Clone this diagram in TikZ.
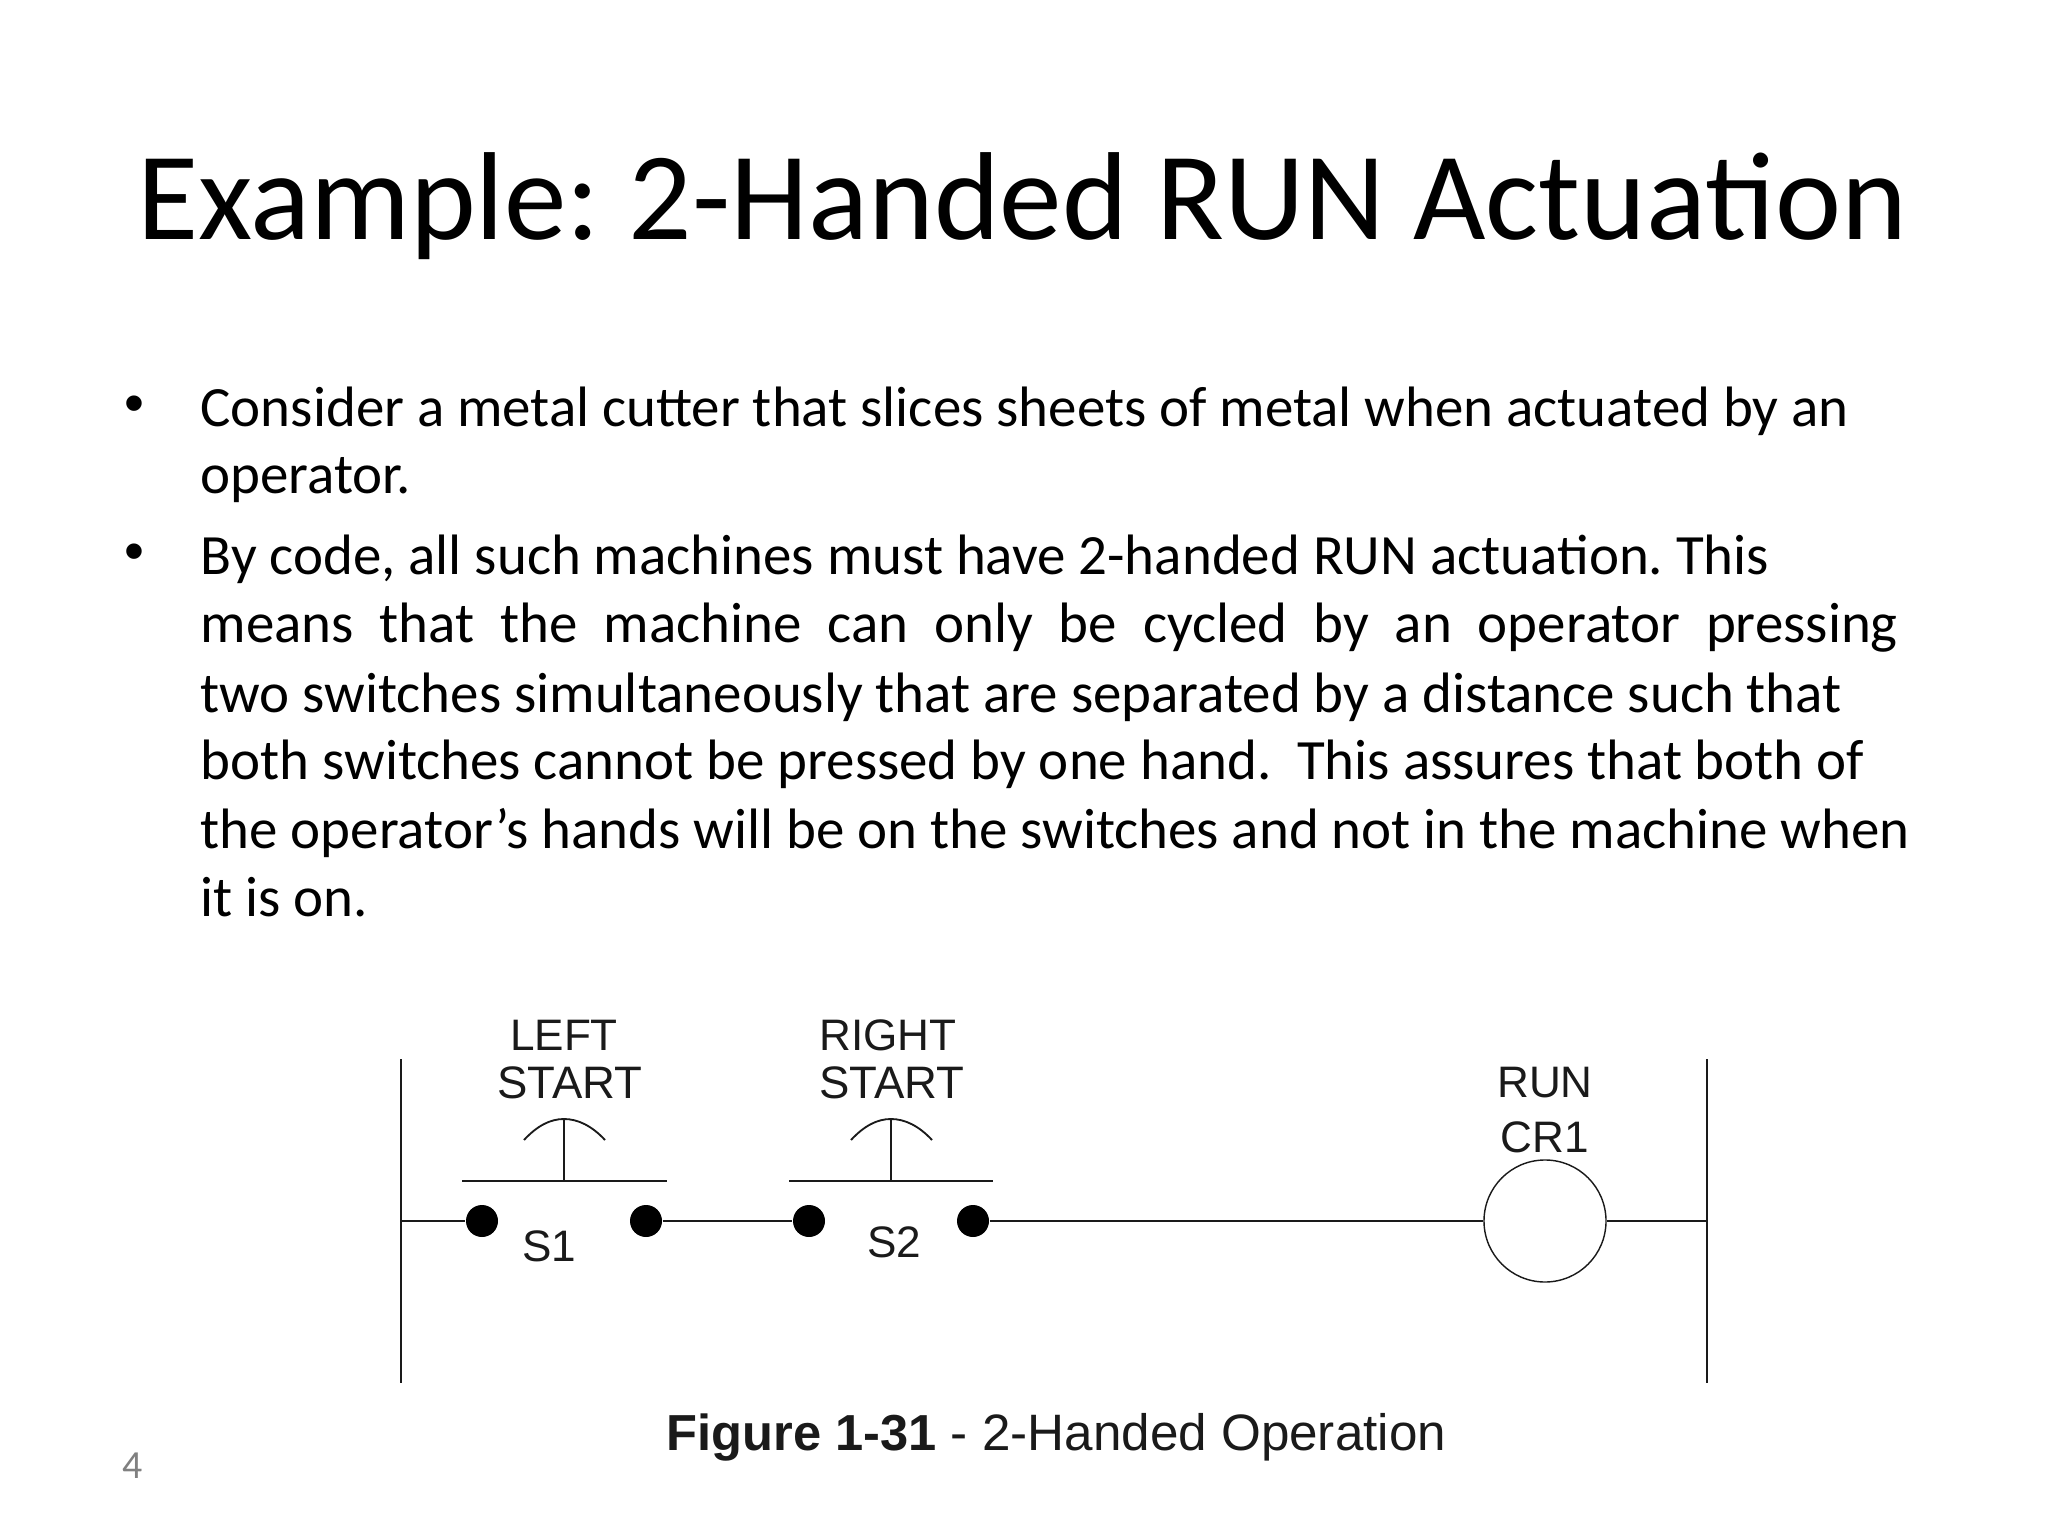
\documentclass[tikz,border=0pt]{standalone}
\usepackage{fontspec}
\setmainfont{Carlito}
\newfontfamily\arialf{Liberation Sans}
\definecolor{ink}{HTML}{1A1A1A}
\tikzset{
  titletext/.style={anchor=base,inner sep=0pt,font=\fontsize{44}{50}\selectfont,text=black},
  bodyline/.style={anchor=base west,inner sep=0pt,font=\fontsize{20.02}{24}\selectfont,text=black},
  bulletmark/.style={anchor=base,inner sep=0pt,font=\arialf\fontsize{20}{24}\selectfont,text=black},
  labeltext/.style={anchor=base,inner sep=0pt,font=\arialf\fontsize{15.5}{18}\selectfont,text=ink},
  starttext/.style={anchor=base,inner sep=0pt,font=\arialf\fontsize{16}{18}\selectfont,text=ink},
  captiontext/.style={anchor=base west,inner sep=0pt,font=\arialf\fontsize{18}{20}\selectfont,text=ink},
  pagenum/.style={anchor=base,inner sep=0pt,font=\fontsize{14}{16}\selectfont,text=black!50},
  contact/.style={circle,fill=black,draw=none,inner sep=0pt,minimum size=11.25pt},
  coil/.style={circle,draw=ink,line width=.5pt,fill=none,inner sep=0pt,minimum size=42.9pt},
  wire/.style={draw=ink,line width=.65pt},
}
\frenchspacing
\begin{document}
\begin{tikzpicture}[x=0.3515625pt,y=-0.3515625pt]
\useasboundingbox (0,0) rectangle (2048,1536);
\node[titletext] (title) at (1022,240) {Example: 2-Handed RUN Actuation};
\node[bulletmark] (b1) at (134,423) {•};
\node[bulletmark] (b2) at (134,571) {•};
\node[bodyline] (l1) at (200,427) {Consider a metal cutter that slices sheets of metal when actuated by an};
\node[bodyline] (l2) at (200,494) {operator.};
\node[bodyline] (l3) at (200,575) {By code, all such machines must have 2-handed RUN actuation. This};
\node[bodyline] (l4) at (200,643) {\makebox[596.7pt][s]{means that the machine can only be cycled by an operator pressing}};
\node[bodyline] (l5) at (200,712) {two switches simultaneously that are separated by a distance such that};
\node[bodyline] (l6) at (200,779) {both switches cannot be pressed by one hand.\ \ This assures that both of};
\node[bodyline] (l7) at (200,848) {the operator’s hands will be on the switches and not in the machine when};
\node[bodyline] (l8) at (200,916) {it is on.};
% rails
\coordinate (railLt) at (401,1059);
\coordinate (railLb) at (401,1383);
\coordinate (railRt) at (1707,1059);
\coordinate (railRb) at (1707,1383);
\coordinate (railLm) at (401,1221);
\coordinate (railRm) at (1707,1221);
\draw[wire] (railLt) -- (railLb);
\draw[wire] (railRt) -- (railRb);
% contacts and coil
\node[contact] (s1a) at (482,1221) {};
\node[contact] (s1b) at (646,1221) {};
\node[contact] (s2a) at (809,1221) {};
\node[contact] (s2b) at (973,1221) {};
\node[coil] (cr) at (1545,1221) {};
\draw[wire] (railLm) -- (s1a);
\draw[wire] (s1b) -- (s2a);
\draw[wire] (s2b) -- (cr);
\draw[wire] (cr) -- (railRm);
% push buttons
\coordinate (bar1l) at (462,1181);
\coordinate (bar1r) at (667,1181);
\coordinate (bar2l) at (789,1181);
\coordinate (bar2r) at (993,1181);
\coordinate (stem1b) at (564,1181);
\coordinate (stem1t) at (564,1119);
\coordinate (stem2b) at (891,1181);
\coordinate (stem2t) at (891,1119);
\coordinate (arc1l) at (524,1140);
\coordinate (arc1r) at (605,1140);
\coordinate (arc2l) at (851,1140);
\coordinate (arc2r) at (932,1140);
\draw[wire] (bar1l) -- (bar1r);
\draw[wire] (bar2l) -- (bar2r);
\draw[wire] (stem1b) -- (stem1t);
\draw[wire] (stem2b) -- (stem2t);
\draw[wire] (arc1l) .. controls (537,1126) and (550,1119) .. (stem1t) .. controls (578,1119) and (592,1126) .. (arc1r);
\draw[wire] (arc2l) .. controls (864,1126) and (877,1119) .. (stem2t) .. controls (905,1119) and (919,1126) .. (arc2r);
% labels
\node[labeltext] (tleft) at (564,1050) {LEFT};
\node[starttext] (tstart1) at (570,1098) {START};
\node[labeltext] (tright) at (888,1050) {RIGHT};
\node[starttext] (tstart2) at (892,1098) {START};
\node[labeltext] (ts1) at (549,1261) {S1};
\node[labeltext] (ts2) at (894,1257) {S2};
\node[labeltext] (trun) at (1545,1097) {RUN};
\node[labeltext] (tcr) at (1545,1152) {CR1};
\node[captiontext] (cap) at (666,1450) {{\fontsize{17.8}{20}\selectfont\textbf{Figure 1-31}} - 2-Handed Operation};
\node[pagenum] (pg) at (133,1478) {4};
\end{tikzpicture}
\end{document}
